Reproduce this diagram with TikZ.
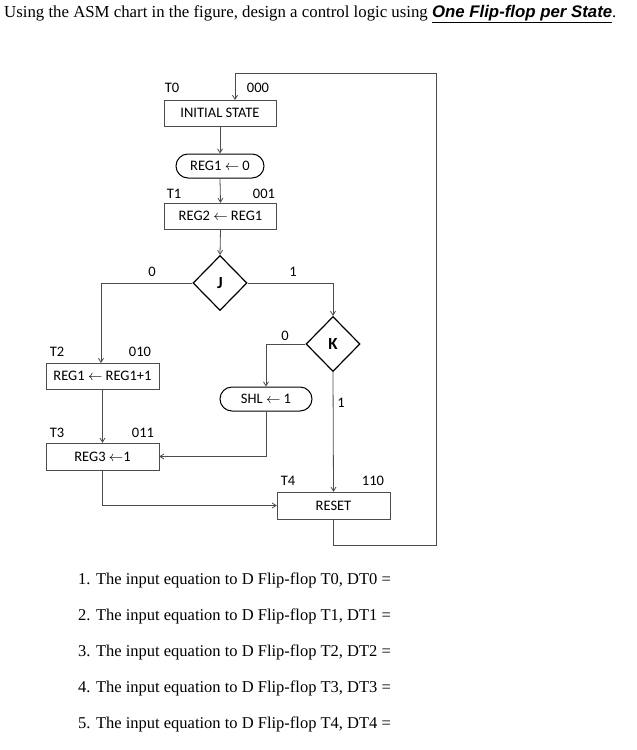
\documentclass[tikz,border=0pt]{standalone}
\usepackage{fontspec}
\setmainfont{Liberation Serif}
\newfontfamily\dia{Carlito}
\newfontfamily\ars{Liberation Sans}
\usetikzlibrary{shapes.geometric,shapes.misc,arrows.meta}
\begin{document}
\begin{tikzpicture}[x=1pt,y=-1pt,
  box/.style={draw=black!70,rectangle,minimum width=112,minimum height=26,inner sep=0,font=\dia\fontsize{14.5}{16}\selectfont},
  oval/.style={draw=black,rounded rectangle,line width=1pt,minimum height=24,inner sep=0,font=\dia\fontsize{14.5}{16}\selectfont},
  dia/.style={draw=black,diamond,line width=1.2pt,minimum width=54,minimum height=55,inner sep=0,font=\dia\bfseries\fontsize{17}{19}\selectfont},
  lab/.style={font=\dia\fontsize{14.5}{16}\selectfont,inner sep=0},
  q/.style={font=\fontsize{16.5}{18}\selectfont,anchor=west,inner sep=0},
  ln/.style={draw=black!70,line width=0.8pt},
  arr/.style={ln,-{Straight Barb[length=4pt,width=5pt]}}]
\useasboundingbox (0,0) rectangle (637,750);
\node[anchor=west,inner sep=0,font=\fontsize{16.8}{18}\selectfont] (title) at (4,14) {Using the ASM chart in the figure, design a control logic using {\ars\bfseries\itshape\underline{One Flip-flop per State}}.};
\node[box] (t0) at (220,113) {INITIAL STATE};
\node[lab] at (172,88) {T0};
\node[lab] at (258,88) {000};
\node[oval,minimum width=88] (r1) at (220,166) {REG1 $\leftarrow$ 0};
\node[box] (t1) at (220.5,216) {REG2 $\leftarrow$ REG1};
\node[lab] at (174,194) {T1};
\node[lab] at (264,194) {001};
\node[dia] (j) at (220,283) {J};
\node[lab] at (152,272) {0};
\node[lab] at (293,272) {1};
\node[box,minimum width=113] (t2) at (102.5,376) {REG1 $\leftarrow$ REG1+1};
\node[lab] at (57,352) {T2};
\node[lab] at (140,352) {010};
\node[box,minimum width=113,minimum height=27] (t3) at (102.5,456.5) {REG3 $\leftarrow$1};
\node[lab] at (57,433) {T3};
\node[lab] at (143,433) {011};
\node[dia] (k) at (333,344) {K};
\node[lab] at (285,336) {0};
\node[lab] at (341,403) {1};
\node[oval,minimum width=92] (shl) at (266,399) {SHL $\leftarrow$ 1};
\node[box,minimum width=113,minimum height=27] (t4) at (333.5,505.5) {RESET};
\node[lab] at (288,481) {T4};
\node[lab] at (373,481) {110};
\coordinate (c1) at (436,545);
\draw[arr] (t0.south) -- (r1.north);
\draw[arr] (r1.south) -- (t1.north);
\draw[arr] (t1.south) -- (j.north);
\draw[arr] (j.west) -| (101,363);
\draw[arr] (j.east) -| (k.north);
\draw[arr] (k.west) -| (shl.north);
\draw[arr] (t2.south) -- (t3.north);
\draw[arr] (shl.south) |- (t3.east);
\draw[arr] (k.south) -- (t4.north);
\draw[arr] (t3.south) |- (t4.west);
\draw[arr] (t4.south) |- (c1) |- (235,73) -- (235,100);
\node[q] (q1) at (78,580) {1. The input equation to D Flip-flop T0, DT0 =};
\node[q] (q2) at (78,616) {2. The input equation to D Flip-flop T1, DT1 =};
\node[q] (q3) at (78,652) {3. The input equation to D Flip-flop T2, DT2 =};
\node[q] (q4) at (78,688) {4. The input equation to D Flip-flop T3, DT3 =};
\node[q] (q5) at (78,724) {5. The input equation to D Flip-flop T4, DT4 =};
\end{tikzpicture}
\end{document}
